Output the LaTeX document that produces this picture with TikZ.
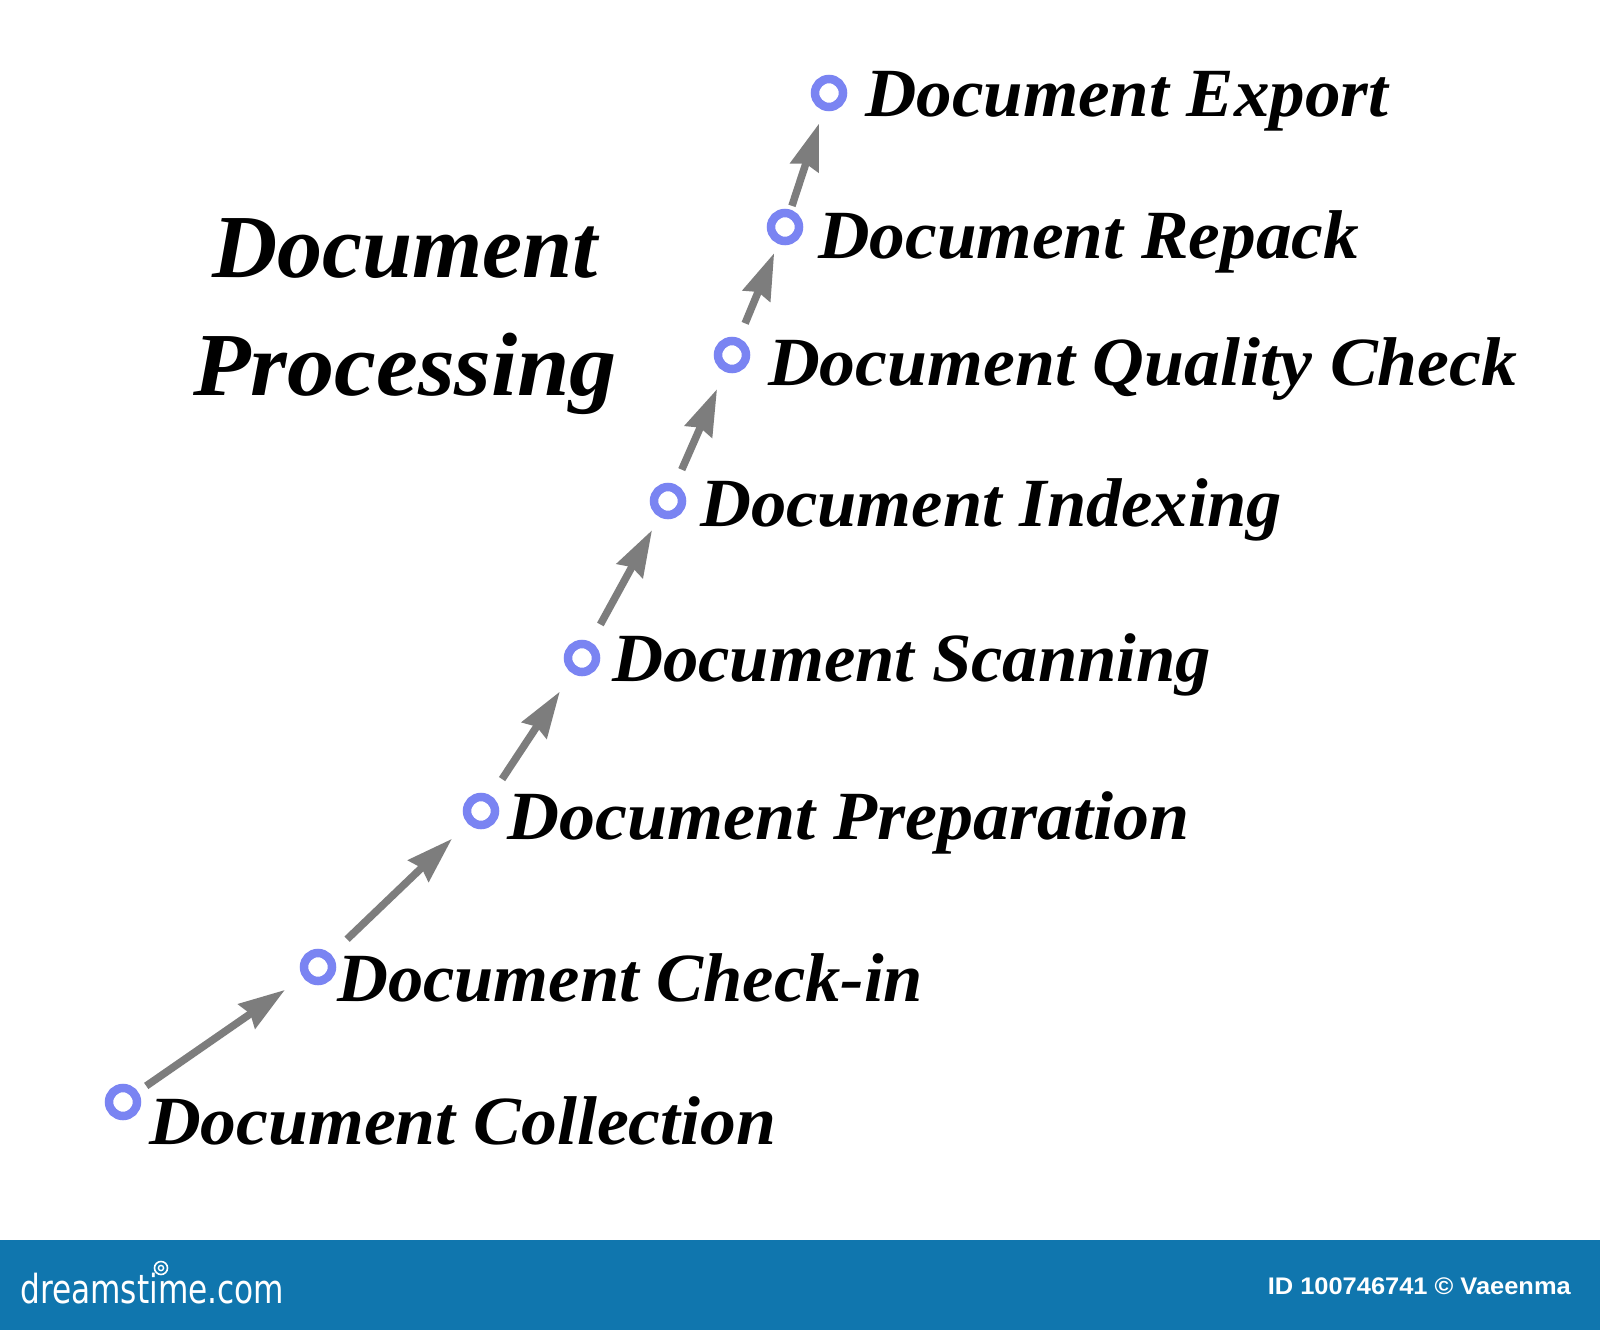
\documentclass[tikz,border=0pt]{standalone}
\usepackage{fontspec}
\setmainfont{Liberation Serif}
\newfontfamily\bannerfont{DejaVu Sans}
\newfontfamily\idfont{Liberation Sans}
\usetikzlibrary{arrows.meta}
\definecolor{ringblue}{RGB}{122,132,242}
\definecolor{arrowgray}{RGB}{125,125,125}
\definecolor{bannerblue}{RGB}{16,118,174}
\newlength\fitlen
\newcommand\fitto[2]{\settowidth\fitlen{#2}\pgfmathsetmacro\fitfac{#1/\fitlen}\scalebox{\fitfac}[1]{#2}}
\tikzset{
  ring/.style={circle, draw=ringblue, fill=white, line width=8.5pt, minimum size=28pt, inner sep=0pt},
  lbl/.style={anchor=base west, inner sep=0pt, font=\fontsize{69}{80}\selectfont\bfseries\itshape},
  ttl/.style={anchor=base, inner sep=0pt, font=\fontsize{90}{110}\selectfont\bfseries\itshape},
  flow/.style={draw=arrowgray, line width=7.5pt, -{Stealth[length=46pt,width=29pt,inset=4pt]}},
}
\begin{document}
\begin{tikzpicture}[x=1pt,y=-1pt]
\useasboundingbox (0,0) rectangle (1600,1330);
\fill[white] (0,0) rectangle (1600,1330);
\fill[bannerblue] (0,1240) rectangle (1600,1330);

% title
\node[ttl] (t1) at (405,277) {\fitto{386}{Document}};
\node[ttl] (t2) at (405,395) {\fitto{424}{Processing}};

% circles
\node[ring] (c1) at (123,1102) {};
\node[ring] (c2) at (318,967) {};
\node[ring] (c3) at (481,811) {};
\node[ring] (c4) at (582,658) {};
\node[ring] (c5) at (668,501) {};
\node[ring] (c6) at (732,355) {};
\node[ring] (c7) at (785,227) {};
\node[ring] (c8) at (829,93) {};

% labels
\node[lbl] (l1) at (149,1144) {\fitto{627}{Document Collection}};
\node[lbl] (l2) at (337,1001) {\fitto{586}{Document Check-in}};
\node[lbl] (l3) at (507,839) {\fitto{682}{Document Preparation}};
\node[lbl] (l4) at (612,681) {\fitto{599}{Document Scanning}};
\node[lbl] (l5) at (700,526) {\fitto{582}{Document Indexing}};
\node[lbl] (l6) at (768,385) {\fitto{749}{Document Quality Check}};
\node[lbl] (l7) at (818,258) {\fitto{541}{Document Repack}};
\node[lbl] (l8) at (865,116) {\fitto{523}{Document Export}};

% arrows
\draw[flow, shorten <=10pt, shorten >=22pt] (c1) -- (c2);
\draw[flow, shorten <=22pt, shorten >=22pt] (c2) -- (c3);
\draw[flow, shorten <=20pt, shorten >=22pt] (c3) -- (c4);
\draw[flow, shorten <=20pt, shorten >=15pt] (c4) -- (c5);
\draw[flow, shorten <=16pt, shorten >=19pt] (c5) -- (c6);
\draw[flow, shorten <=16pt, shorten >=10pt] (c6) -- (c7);
\draw[flow, shorten <=4pt, shorten >=14pt] (c7) -- (c8);

% banner
\node[anchor=base west, inner sep=0pt, text=white, font=\bannerfont\fontsize{40}{44}\selectfont] (brand) at (20,1303) {\fitto{264}{dreamstime.com}};
\draw[white, line width=1.6pt] (161,1268) circle (6.5);
\draw[white, line width=1.4pt] (161,1268) circle (2.6);
\node[anchor=base east, inner sep=0pt, text=white, font=\idfont\bfseries\fontsize{24}{28}\selectfont] (credit) at (1571,1294) {\fitto{303}{ID 100746741 © Vaeenma}};
\end{tikzpicture}
\end{document}
